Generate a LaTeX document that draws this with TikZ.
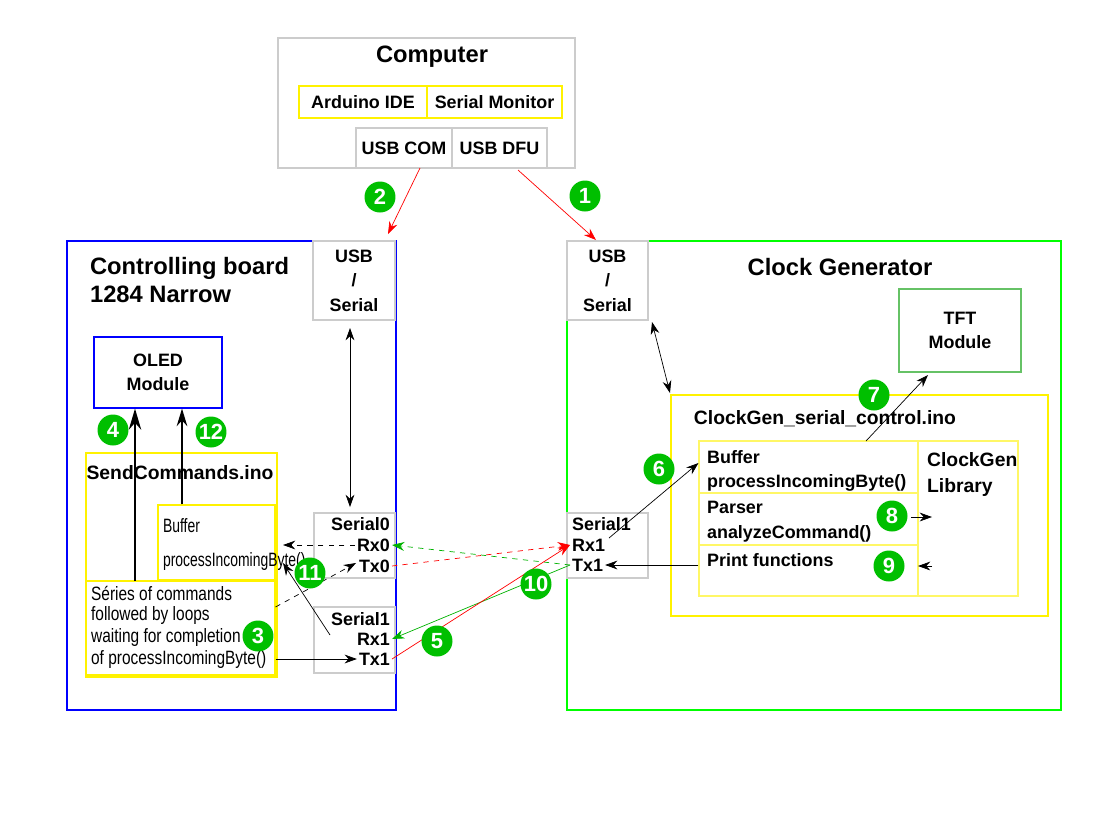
\documentclass[tikz,border=0pt]{standalone}
\usepackage{fontspec}
\setmainfont{Liberation Sans}
\usepackage{graphicx}
\usetikzlibrary{arrows.meta}
\tikzset{
  sz/.style args={#1x#2}{minimum width=#1*0.02cm, minimum height=#2*0.02cm},
  box/.style={draw, rectangle, inner sep=0pt, line width=0.6pt},
  grey/.style={box, draw=black!20},
  yel/.style={box, draw=yellow},
  txt/.style={font=\fontsize{10.2}{12}\selectfont\bfseries, inner sep=1pt, align=left},
  ttl/.style={font=\fontsize{13.5}{16}\selectfont\bfseries, inner sep=1pt, align=left},
  narrow/.style={font=\fontsize{11}{13}\selectfont, inner sep=1pt, anchor=west},
  num/.style={circle, fill=green!75!black, text=white, inner sep=0pt, minimum size=0.62cm,
    font=\fontsize{12.5}{12}\selectfont\bfseries},
  arr/.style={-{Stealth[length=7pt,width=5pt]}},
}
\begin{document}
\begin{tikzpicture}[x=0.02cm, y=-0.02cm]
  \useasboundingbox (0,0) rectangle (1120,816);
  % computer
  \node[grey, sz=297x130] (pc) at (426.5,103) {};
  \node[ttl] at (432,57) {Computer};
  \node[yel, sz=128x32, txt] (ide) at (363,102) {Arduino IDE};
  \node[yel, sz=135x32, txt] (mon) at (494.5,102) {Serial Monitor};
  \node[grey, sz=96x40, txt] (com) at (404,148) {USB COM};
  \node[grey, sz=95x40, txt] (dfu) at (499.5,148) {USB DFU};
  % controlling board
  \node[box, draw=blue, line width=1.3pt, sz=329x469] (ctl) at (231.5,475.5) {};
  \node[ttl, anchor=north west] at (88,255) {Controlling board\\1284 Narrow};
  \node[grey, sz=82x79, txt, align=center] (usbl) at (354,280.5) {USB\\[2pt]/\\[2pt]Serial};
  \node[box, draw=blue, sz=128x71, txt, align=center] (oled) at (158,372.5) {OLED\\[2pt]Module};
  \node[yel, sz=191x224] (send) at (181.5,565) {};
  \node[txt, font=\fontsize{11}{12}\selectfont\bfseries] at (180,473) {SendCommands.ino};
  \node[yel, sz=117x75] (buf) at (216.5,542.5) {};
  \node[narrow] at (161,526) {\scalebox{0.72}[1]{Buffer}};
  \node[narrow] at (161,561) {\scalebox{0.72}[1]{processIncomingByte()}};
  \node[yel, sz=189x94] (series) at (180.5,628) {};
  \node[narrow] at (89,593) {\scalebox{0.8}[1]{Séries of commands}};
  \node[narrow] at (89,615) {\scalebox{0.8}[1]{followed by loops}};
  \node[narrow] at (89,637) {\scalebox{0.8}[1]{waiting for completion}};
  \node[narrow] at (89,659) {\scalebox{0.8}[1]{of processIncomingByte()}};
  \node[grey, sz=81x65] (sa) at (354.5,545.5) {};
  \node[txt, anchor=east] at (392,524) {Serial0};
  \node[txt, anchor=east] (rxa) at (392,545) {Rx0};
  \node[txt, anchor=east] (txa) at (392,566) {Tx0};
  \node[grey, sz=81x66] (sb) at (354.5,640) {};
  \node[txt, anchor=east] at (392,619) {Serial1};
  \node[txt, anchor=east] (rxb) at (392,639) {Rx1};
  \node[txt, anchor=east] (txb) at (392,659) {Tx1};
  % clock generator
  \node[box, draw=green, line width=1.3pt, sz=494x469] (clk) at (814,475.5) {};
  \node[ttl] at (840,267) {Clock Generator};
  \node[grey, sz=81x79, txt, align=center] (usbr) at (607.5,280.5) {USB\\[2pt]/\\[2pt]Serial};
  \node[box, draw=green!60!black!60, sz=122x83, txt, align=center] (tft) at (960,330.5) {TFT\\[2pt]Module};
  \node[yel, sz=377x221] (ino) at (859.5,505.5) {};
  \node[txt, font=\fontsize{11}{12}\selectfont\bfseries] at (825,419) {ClockGen\_serial\_control.ino};
  \node[box, draw=yellow!60, sz=219x52] (bufr) at (808.5,467) {};
  \node[txt, anchor=north west] at (705,448) {Buffer\\[2pt]processIncomingByte()};
  \node[box, draw=yellow!60, sz=219x52] (pars) at (808.5,519) {};
  \node[txt, anchor=north west] at (705,499) {Parser\\[2pt]analyzeCommand()};
  \node[box, draw=yellow!60, sz=219x51] (prt) at (808.5,570.5) {};
  \node[txt, anchor=north west] at (705,551) {Print functions};
  \node[box, draw=yellow!60, sz=100x155] (lib) at (968,518.5) {};
  \node[txt, anchor=north west, font=\fontsize{11}{13}\selectfont\bfseries] at (925,450) {ClockGen\\[2pt]Library};
  \node[grey, sz=81x65] (sr) at (607.5,545.5) {};
  \node[txt, anchor=west] at (570,524) {Serial1};
  \node[txt, anchor=west] (rxr) at (570,545) {Rx1};
  \node[txt, anchor=west] (txr) at (570,565) {Tx1};
  % connectors
  \draw[arr, red] (420,168) -- (388,234);
  \draw[arr, red] (518,170) -- (596,240);
  \draw[arr, {Stealth[length=7pt,width=5pt]}-{Stealth[length=7pt,width=5pt]}] (350,328) -- (350,507);
  \draw[arr, {Stealth[length=7pt,width=5pt]}-{Stealth[length=7pt,width=5pt]}] (652,322) -- (670,393);
  \draw[-{Stealth[length=12pt,width=7pt]}, line width=1.5pt] (135,581) -- (oled.south -| 135,0);
  \draw[-{Stealth[length=10pt,width=6pt]}, line width=1.2pt] (buf.north -| 182,0) -- (oled.south -| 182,0);
  \draw[arr, dashed] (rxa.west) -- (283,545);
  \draw[arr, dashed] (series.east |- 0,607) -- (356,563);
  \draw[arr, dashed, green!70!black] (txr.west) -- (rxa.east);
  \draw[arr, dashed, red] (txa.east) -- (rxr.west);
  \draw[arr] (330,635) -- (283,563);
  \draw[arr] (series.east |- txb) -- (txb.west);
  \draw[arr, green!70!black] (txr.west) -- (rxb.east);
  \draw[arr, red] (txb.east) -- (rxr.west);
  \draw[arr] (609,538) -- (bufr.west |- 0,463);
  \draw[arr] (866,441) -- (928,375);
  \draw[arr] (911,517) -- (932,517);
  \draw[arr] (932,566) -- (918,566);
  \draw[arr] (prt.west |- txr) -- (txr.east);
  % step numbers
  \foreach \n/\x/\y in {1/585/196, 2/380/197, 3/258/636, 4/113/430, 5/437/641, 6/659/469,
    7/874/395, 8/892/516, 9/889/566, 10/536/584, 11/310/573, 12/211/432}
    \node[num] (n\n) at (\x,\y) {\n};
\end{tikzpicture}
\end{document}
